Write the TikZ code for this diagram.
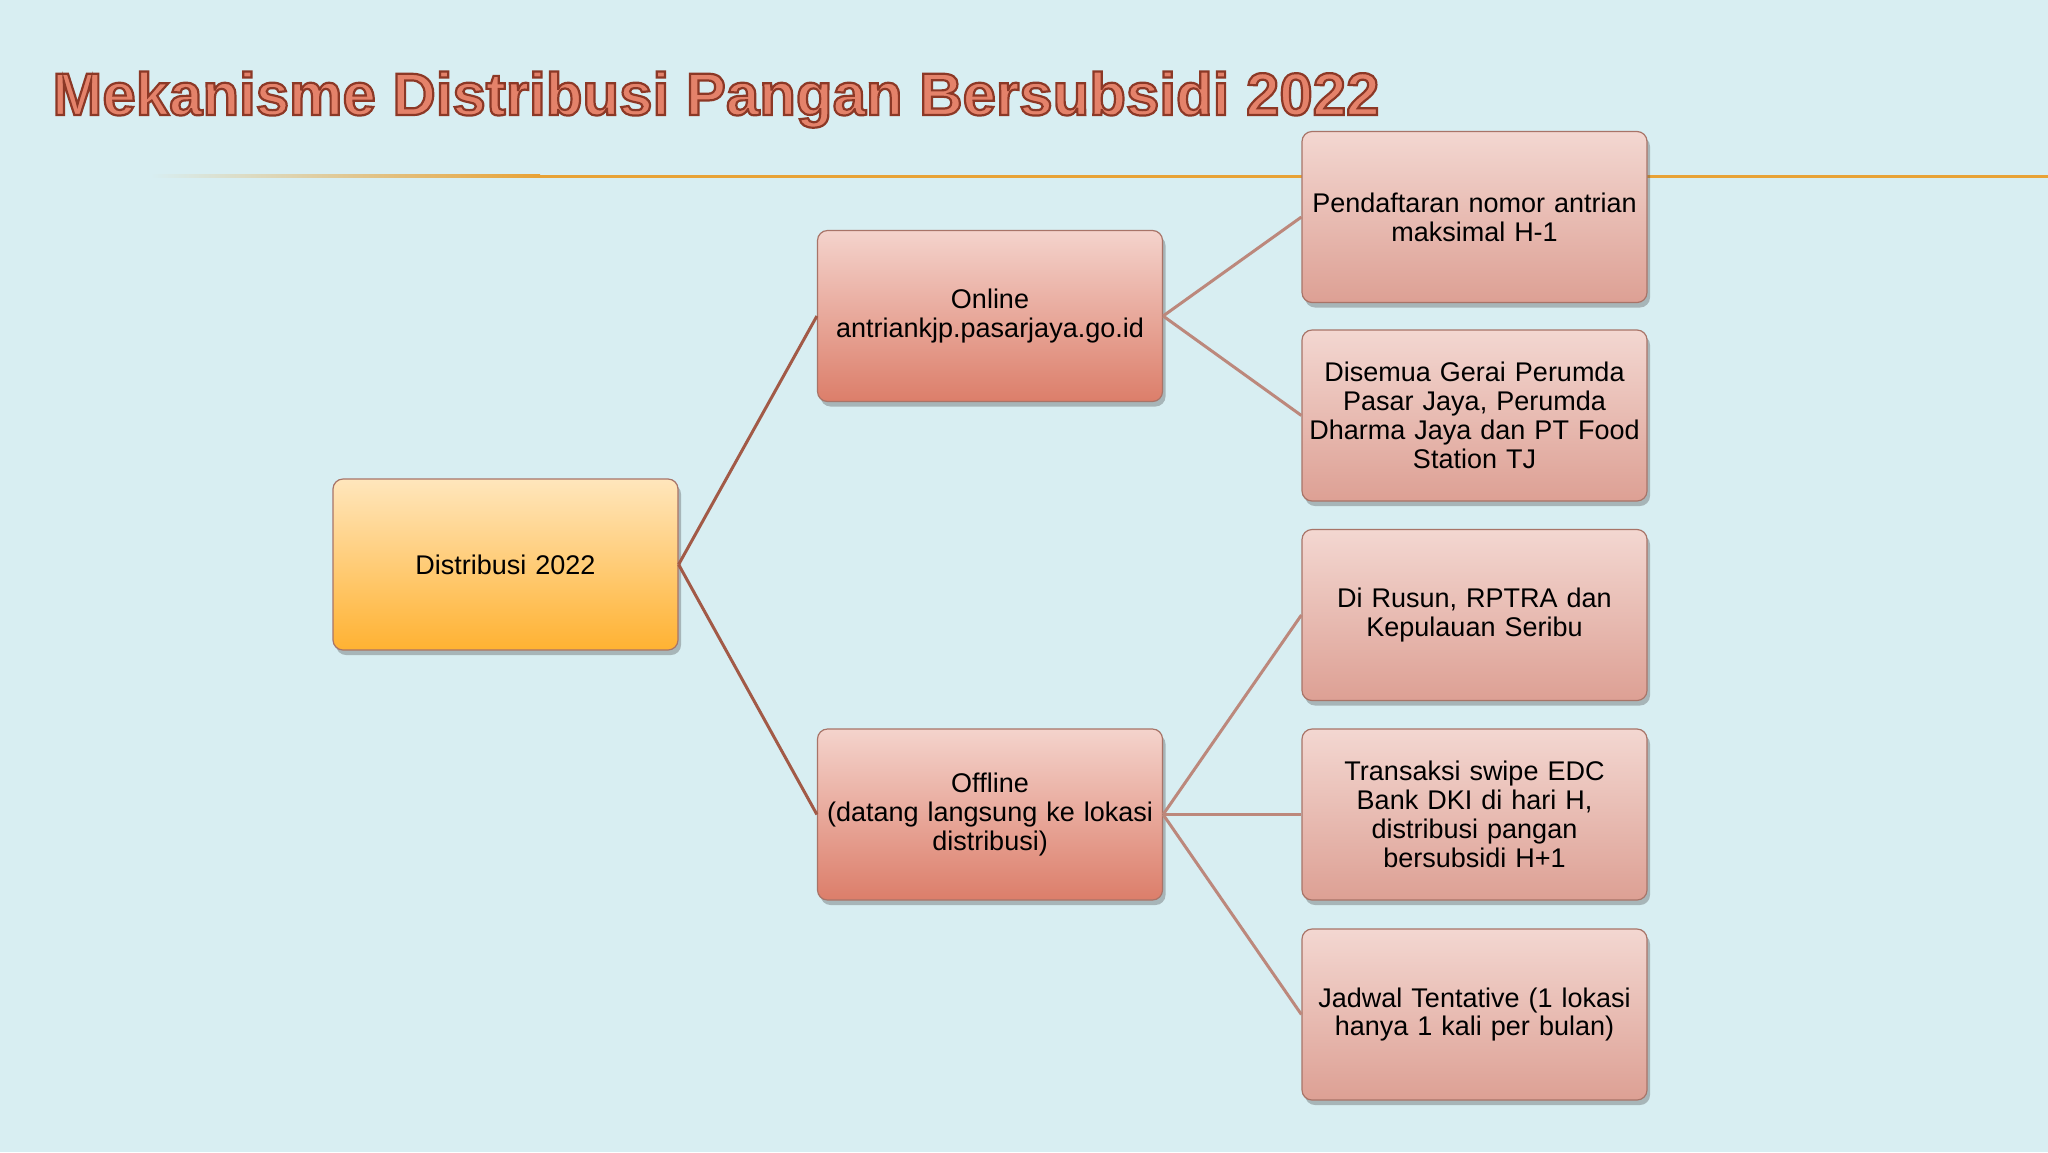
\documentclass[tikz,border=0pt]{standalone}
\usepackage{fontspec}
\setmainfont{Liberation Sans}
\usetikzlibrary{shadows}
\definecolor{bg}{HTML}{D8EEF2}
\definecolor{gold}{HTML}{E8A236}
\definecolor{pinkTop}{HTML}{F4D3CC}
\definecolor{pinkBot}{HTML}{DC7E6A}
\definecolor{roseTop}{HTML}{F3D7D1}
\definecolor{roseBot}{HTML}{DDA094}
\definecolor{orTop}{HTML}{FFE6BC}
\definecolor{orBot}{HTML}{FFB232}
\definecolor{boxline}{HTML}{A87468}
\definecolor{connA}{HTML}{A25A47}
\definecolor{connB}{HTML}{BC887C}
\definecolor{titleFill}{HTML}{E4826A}
\tikzset{
  basebox/.style={draw=boxline, line width=0.6pt, rounded corners=5pt,
    minimum width=172.5pt, minimum height=85.5pt, text width=168pt,
    align=center, inner sep=0pt, font=\fontsize{13.5}{14.4}\selectfont,
    drop shadow={shadow xshift=1.5pt, shadow yshift=-2.5pt, opacity=0.35, fill=black!70}},
  orangebox/.style={basebox, top color=orTop, bottom color=orBot},
  midbox/.style={basebox, top color=pinkTop, bottom color=pinkBot},
  leafbox/.style={basebox, top color=roseTop, bottom color=roseBot},
  connleft/.style={draw=connA, line width=1.5pt},
  connright/.style={draw=connB, line width=1.5pt},
  titlefont/.style={font=\fontsize{30}{34}\selectfont\bfseries, inner sep=0pt, anchor=base west}
}
\newcommand{\outlinedtext}[1]{\color{titleFill}\special{pdf:literal direct 2 Tr 1.1 w 0.55 0.22 0.15 RG}#1\special{pdf:literal direct 0 Tr}}
\begin{document}
\begin{tikzpicture}[x=0.5pt, y=-0.5pt]
\fill[bg] (0,0) rectangle (2048,1152);
\useasboundingbox (0,0) rectangle (2048,1152);
% rule under title
\shade[left color=bg, right color=gold] (150,174.5) rectangle (540,177.5);
\fill[gold] (540,174.5) rectangle (2048,177.5);
% title
\node[titlefont] (title) at (52,115) {\outlinedtext{Mekanisme Distribusi Pangan Bersubsidi 2022}};
% nodes
\node[orangebox] (dist) at (505.5,564.5) {Distribusi 2022};
\node[midbox] (online) at (990,316) {Online\\antriankjp.pasarjaya.go.id};
\node[midbox] (offline) at (990,814.5) {Offline\\(datang langsung ke lokasi\\distribusi)};
\node[leafbox] (l1) at (1474.5,217) {Pendaftaran nomor antrian\\maksimal H-1};
\node[leafbox] (l2) at (1474.5,415.5) {Disemua Gerai Perumda\\Pasar Jaya, Perumda\\Dharma Jaya dan PT Food\\Station TJ};
\node[leafbox] (l3) at (1474.5,615) {Di Rusun, RPTRA dan\\Kepulauan Seribu};
\node[leafbox] (l4) at (1474.5,814.5) {Transaksi swipe EDC\\Bank DKI di hari H,\\distribusi pangan\\bersubsidi H+1};
\node[leafbox] (l5) at (1474.5,1014.5) {Jadwal Tentative (1 lokasi\\hanya 1 kali per bulan)};
% connectors
\draw[connleft] (dist.east) -- (online.west);
\draw[connleft] (dist.east) -- (offline.west);
\draw[connright] (online.east) -- (l1.west);
\draw[connright] (online.east) -- (l2.west);
\draw[connright] (offline.east) -- (l3.west);
\draw[connright] (offline.east) -- (l4.west);
\draw[connright] (offline.east) -- (l5.west);
\end{tikzpicture}
\end{document}
